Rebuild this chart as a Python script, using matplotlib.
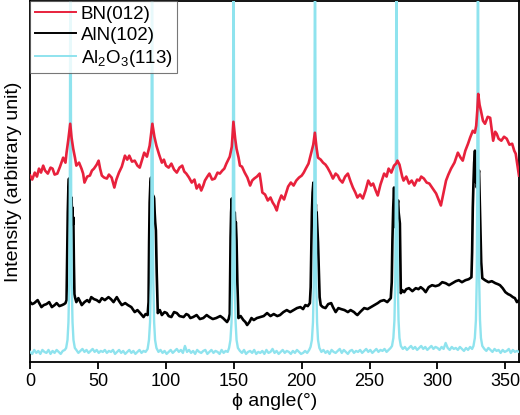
import matplotlib
matplotlib.use('Agg')
import matplotlib.pyplot as plt

plt.rcParams['font.family'] = ['Liberation Sans', 'DejaVu Sans']
plt.rcParams['mathtext.default'] = 'regular'

# phi scan data (intensity in arbitrary units)
bn_phi = [0, 1.5, 3.4, 5, 6.5, 8, 9.6, 11, 13, 15, 16.5, 18, 20, 22, 24.3, 26, 26.8, 28, 29.5, 30.5,
          31.7, 33, 34, 36, 37.8, 39, 40, 42, 44, 45.5, 47, 49, 50.4, 51.5, 52.8, 54.5, 56.5, 58, 60, 61,
          62, 63.5, 65.4, 67.5, 69.8, 71.5, 73, 75, 77, 79, 80.7, 82.5, 84, 86, 88, 89, 90, 91.5, 93, 95,
          97, 98.5, 100, 102, 104, 106, 108, 110, 112, 113.5, 115, 117, 119, 121, 122.6, 124.5, 126, 127.5, 128.7, 130.5,
          132, 134, 136, 138, 139.7, 141.5, 143, 144.5, 145.6, 147, 148.5, 149.7, 151, 152, 153.5, 154.5, 156, 158, 160, 162,
          163.5, 165, 167, 169, 170, 171, 173, 175, 177, 178.6, 180, 181.6, 183, 185, 187, 188.6, 190, 192, 194, 196,
          198, 200, 201.5, 203, 205, 207, 208.5, 209.7, 211, 212, 214, 215.7, 217.5, 219, 221, 223, 225, 226.6, 228, 230,
          232, 234, 236, 237.7, 239.5, 241, 243, 245, 247, 249, 251, 252.6, 254.5, 256, 258, 260.7, 262.5, 264, 266, 268,
          269.5, 270.5, 272, 273, 274, 275, 277, 279, 281, 283, 285, 286.6, 288, 290, 292, 294, 296.5, 299, 301, 302.5,
          304.5, 306.3, 308, 310, 312.5, 315, 317, 318.6, 320.5, 322.5, 324, 326, 327.5, 328.5, 329.3, 330, 331, 332, 333.5, 335,
          337, 338.8, 340, 341, 342.5, 343.6, 345, 347, 349, 351, 353, 355, 356.5, 357.6, 359, 360]
bn_int = [187, 183, 190, 186, 194, 190, 197, 192, 189, 195, 194, 188, 189, 196, 205, 200, 210, 222, 239, 225,
          214, 205, 197, 200, 194, 189, 180, 186, 187, 192, 194, 198, 202, 194, 187, 185, 184, 188, 185, 180,
          175, 183, 190, 196, 207, 203, 207, 201, 202, 197, 195, 203, 210, 206, 217, 228, 239, 226, 217, 208,
          200, 203, 197, 195, 199, 193, 190, 195, 197, 191, 189, 185, 180, 183, 174, 178, 172, 177, 182, 186,
          189, 183, 184, 190, 189, 192, 194, 199, 202, 206, 216, 241, 224, 214, 205, 197, 196, 190, 185, 177,
          182, 184, 186, 189, 180, 170, 168, 162, 165, 160, 157, 152, 160, 167, 163, 170, 176, 180, 177, 182,
          185, 187, 190, 194, 199, 210, 218, 230, 214, 205, 203, 200, 198, 195, 190, 184, 189, 187, 183, 180,
          186, 189, 181, 175, 170, 165, 168, 164, 172, 182, 177, 179, 172, 167, 178, 189, 186, 194, 190, 197,
          199, 202, 198, 192, 186, 182, 186, 179, 182, 177, 183, 182, 186, 184, 180, 179, 174, 169, 162, 157,
          170, 182, 188, 194, 200, 210, 205, 202, 212, 219, 225, 232, 230, 237, 252, 269, 258, 252, 242, 239,
          246, 245, 232, 222, 231, 229, 224, 222, 226, 224, 218, 219, 212, 209, 196, 187]

aln_phi = [0, 1.5, 3, 5.5, 8.3, 10, 12, 14, 16, 18, 19.5, 21.5, 23.5, 25, 26, 26.8, 27.3, 27.7, 28.1, 28.6,
           28.9, 29.2, 29.5, 29.8, 30.1, 30.5, 30.8, 31.1, 31.5, 31.8, 32.2, 32.6, 33, 34, 35.5, 37, 38, 40, 42, 43.5,
           45, 47, 49, 51, 52.8, 55, 57.7, 59.5, 61.4, 63.8, 65.5, 67.5, 70, 72, 74.5, 77, 79, 81, 83.5, 85,
           86.5, 87.2, 87.6, 88, 88.5, 89, 89.3, 89.6, 90, 90.3, 90.7, 91, 91.3, 91.7, 92.1, 92.6, 93.2, 94, 95.5, 97,
           99, 100.6, 102, 104, 106, 108, 110, 113, 115, 116.5, 118, 120, 122.6, 125, 127.5, 130, 132, 134.5, 137, 140,
           142, 145, 146.2, 147, 147.6, 148, 148.5, 148.8, 149.1, 149.5, 149.8, 150.2, 150.7, 151.1, 151.5, 152, 152.6, 153.4, 155, 157,
           158.5, 159.8, 161.5, 163, 164.7, 167, 169.6, 172, 174.5, 177, 179.4, 182, 184, 186.5, 189, 191.5, 194, 196.5, 199, 201,
           202.7, 204.5, 206, 206.6, 207, 207.5, 208, 208.6, 208.9, 209.2, 209.6, 210, 210.4, 210.7, 211, 211.5, 212, 212.6, 213.2, 214,
           215.5, 217.5, 219.5, 221.7, 223, 225, 227, 229, 231.5, 234, 236, 238.5, 240, 241, 243, 246, 248.5, 251, 253.5, 256,
           258, 260.6, 263, 265.6, 266.3, 266.8, 267.4, 268, 268.3, 268.7, 269, 269.4, 269.8, 270.2, 270.6, 271, 271.4, 271.8, 272.3, 272.7,
           273, 274, 275.5, 277, 279, 281.5, 284, 286, 287.6, 289.5, 291.3, 293.5, 296, 298.5, 301, 303.5, 306, 308.5, 311, 313.5,
           315.7, 318, 320.6, 323, 325, 325.5, 326, 326.5, 327, 327.6, 328, 328.4, 328.7, 329, 329.4, 329.8, 330.2, 330.6, 331, 331.5,
           332.2, 333, 335, 337.6, 340, 342.6, 344.5, 346, 348, 350, 352, 353.6, 355.5, 357, 358.5, 360]
aln_int = [60, 58, 59, 62, 55, 57, 58, 60, 55, 57, 59, 56, 57, 58, 59, 62, 110, 150, 172, 184,
           160, 170, 152, 162, 150, 165, 148, 155, 138, 145, 100, 68, 65, 60, 64, 60, 57, 60, 62, 60,
           65, 63, 62, 60, 64, 62, 65, 63, 60, 65, 61, 57, 59, 57, 55, 50, 52, 49, 45, 48,
           47, 60, 120, 160, 178, 185, 165, 172, 159, 168, 155, 166, 164, 150, 140, 132, 90, 49, 52, 47,
           50, 49, 46, 45, 50, 49, 46, 45, 48, 47, 44, 45, 47, 43, 44, 47, 45, 43, 44, 46,
           44, 40, 43, 48, 125, 150, 164, 145, 152, 139, 148, 142, 150, 136, 140, 122, 80, 44, 46, 42,
           40, 37, 40, 44, 42, 44, 45, 46, 49, 46, 48, 46, 47, 50, 52, 50, 52, 54, 55, 53,
           57, 56, 59, 75, 109, 150, 170, 180, 160, 168, 150, 149, 158, 142, 150, 135, 120, 92, 65, 57,
           55, 54, 58, 59, 55, 50, 54, 53, 52, 50, 52, 50, 48, 47, 50, 54, 53, 55, 57, 59,
           61, 62, 60, 64, 80, 122, 155, 175, 160, 150, 135, 148, 145, 152, 158, 162, 150, 145, 139, 100,
           69, 72, 70, 73, 74, 71, 74, 73, 75, 73, 70, 75, 77, 76, 77, 80, 79, 77, 79, 81,
           82, 80, 82, 83, 85, 110, 155, 180, 200, 212, 195, 180, 190, 175, 185, 178, 188, 192, 170, 139,
           100, 84, 82, 80, 81, 79, 78, 77, 74, 70, 68, 67, 65, 64, 60, 62]

sap_phi = [0, 1.5, 3, 4.5, 6, 7.5, 9, 10.5, 12, 13.5, 15, 16.5, 18, 19.5, 21, 22.5, 24, 25.5, 26.5, 27.5,
           28.2, 28.8, 29.2, 29.5, 29.7, 29.9, 30.2, 30.6, 31.2, 31.9, 32.9, 34, 35.5, 37, 38.5, 40, 41.5, 43, 44.5, 46,
           47.5, 49, 50.5, 52, 53.5, 55, 56.5, 58, 59.5, 61, 62.5, 64, 65.5, 67, 68.5, 70, 71.5, 73, 74.5, 76,
           77.5, 79, 80.5, 82, 83.5, 85, 86.5, 87.5, 88.3, 88.9, 89.3, 89.6, 89.8, 90, 90.3, 90.7, 91.3, 92, 93, 94.5,
           96, 97.5, 99, 100.5, 102, 103.5, 105, 106.5, 108, 109.5, 111, 112.5, 114, 115.5, 117, 118.5, 120, 121.5, 123, 124.5,
           126, 127.5, 129, 130.5, 132, 133.5, 135, 136.5, 138, 139.5, 141, 142.5, 144, 145.5, 146.5, 147.5, 148.3, 148.9, 149.3, 149.6,
           149.8, 150, 150.3, 150.7, 151.3, 152, 153, 154.5, 156, 157.5, 159, 160.5, 162, 163.5, 165, 166.5, 168, 169.5, 171, 172.5,
           174, 175.5, 177, 178.5, 180, 181.5, 183, 184.5, 186, 187.5, 189, 190.5, 192, 193.5, 195, 196.5, 198, 199.5, 201, 202.5,
           204, 205.5, 206.5, 207.5, 208.3, 208.9, 209.3, 209.6, 209.8, 210, 210.3, 210.7, 211.3, 212, 213, 214.5, 216, 217.5, 219, 220.5,
           222, 223.5, 225, 226.5, 228, 229.5, 231, 232.5, 234, 235.5, 237, 238.5, 240, 241.5, 243, 244.5, 246, 247.5, 249, 250.5,
           252, 253.5, 255, 256.5, 258, 259.5, 261, 262.5, 264, 265.5, 266.5, 267.5, 268.3, 268.9, 269.3, 269.6, 269.8, 270, 270.3, 270.7,
           271.3, 272, 273, 274.5, 276, 277.5, 279, 280.5, 282, 283.5, 285, 286.5, 288, 289.5, 291, 292.5, 294, 295.5, 297, 298.5,
           300, 301.5, 303, 304.5, 306, 307.5, 309, 310.5, 312, 313.5, 315, 316.5, 318, 319.5, 321, 322.5, 324, 325.5, 326.5, 327.5,
           328.3, 328.9, 329.3, 329.6, 329.8, 330, 330.3, 330.7, 331.3, 332, 333, 334.5, 336, 337.5, 339, 340.5, 342, 343.5, 345, 346.5,
           348, 349.5, 351, 352.5, 354, 355.5, 357, 358.5, 360]
sap_int = [10, 8, 12, 9, 11, 8, 12, 10, 9, 12, 8, 11, 9, 12, 10, 8, 11, 12, 14, 22,
           40, 80, 170, 330, 600, 330, 170, 80, 40, 22, 14, 12, 9, 11, 13, 10, 12, 9, 11, 13,
           10, 12, 9, 11, 10, 12, 9, 11, 10, 12, 8, 10, 12, 9, 11, 8, 10, 12, 9, 11,
           8, 10, 12, 9, 11, 10, 13, 22, 40, 80, 170, 330, 600, 330, 170, 80, 40, 22, 14, 10,
           12, 9, 11, 8, 10, 12, 9, 11, 13, 10, 12, 9, 16, 10, 12, 9, 11, 8, 12, 10,
           9, 11, 12, 8, 10, 12, 9, 11, 10, 8, 12, 9, 11, 10, 14, 22, 40, 80, 170, 330,
           600, 330, 170, 80, 40, 22, 14, 11, 9, 12, 8, 10, 11, 9, 12, 8, 10, 9, 11, 8,
           12, 9, 10, 13, 9, 11, 8, 10, 12, 9, 11, 10, 8, 11, 9, 12, 10, 8, 9, 11,
           9, 12, 15, 22, 40, 80, 170, 330, 600, 330, 170, 80, 40, 22, 14, 10, 12, 9, 11, 8,
           12, 10, 9, 11, 13, 9, 12, 10, 8, 11, 12, 9, 11, 10, 12, 9, 11, 13, 10, 12,
           9, 11, 13, 10, 12, 11, 13, 10, 12, 14, 16, 24, 42, 82, 170, 330, 600, 330, 170, 82,
           42, 24, 16, 13, 15, 12, 14, 16, 13, 15, 12, 14, 16, 13, 15, 12, 14, 16, 13, 15,
           14, 12, 15, 13, 19, 14, 12, 15, 13, 14, 12, 15, 13, 11, 14, 12, 15, 13, 16, 24,
           42, 82, 170, 330, 600, 330, 170, 82, 42, 24, 16, 13, 11, 14, 12, 10, 13, 11, 12, 9,
           12, 10, 11, 13, 9, 12, 10, 11, 10]

x_ticks = [0, 50, 100, 150, 200, 250, 300, 350]

fig = plt.figure(figsize=(5.2, 4.15), dpi=100)
ax = fig.add_axes([0.058, 0.128, 0.94, 0.869])

ax.plot(bn_phi, bn_int, color='#e8213c', lw=1.9, label='BN(012)', zorder=4)
ax.plot(aln_phi, aln_int, color='black', lw=1.9, label='AlN(102)', zorder=2)
ax.plot(sap_phi, sap_int, color='#8fe3ee', lw=1.7, label='Al$_2$O$_3$(113)', zorder=3)

ax.set_xlim(0, 360)
ax.set_ylim(0, 362)
ax.set_xticks(x_ticks)
ax.set_yticks([])
ax.tick_params(axis='x', direction='out', length=5, width=1.3, labelsize=13, pad=3)
for s in ax.spines.values():
    s.set_linewidth(1.3)

ax.set_xlabel('ϕ angle(°)', fontsize=14, labelpad=2)
ax.set_ylabel('Intensity (arbitrary unit)', fontsize=14, labelpad=6)

leg = ax.legend(loc='upper left', fontsize=13.5, frameon=True, fancybox=False,
                borderaxespad=0, handlelength=2.2, handletextpad=0.25,
                labelspacing=0.2, borderpad=0.25)
leg.get_frame().set_edgecolor('#555555')
leg.get_frame().set_linewidth(0.8)
for line in leg.get_lines():
    line.set_linewidth(1.4)

plt.savefig('out.png', dpi=100)
